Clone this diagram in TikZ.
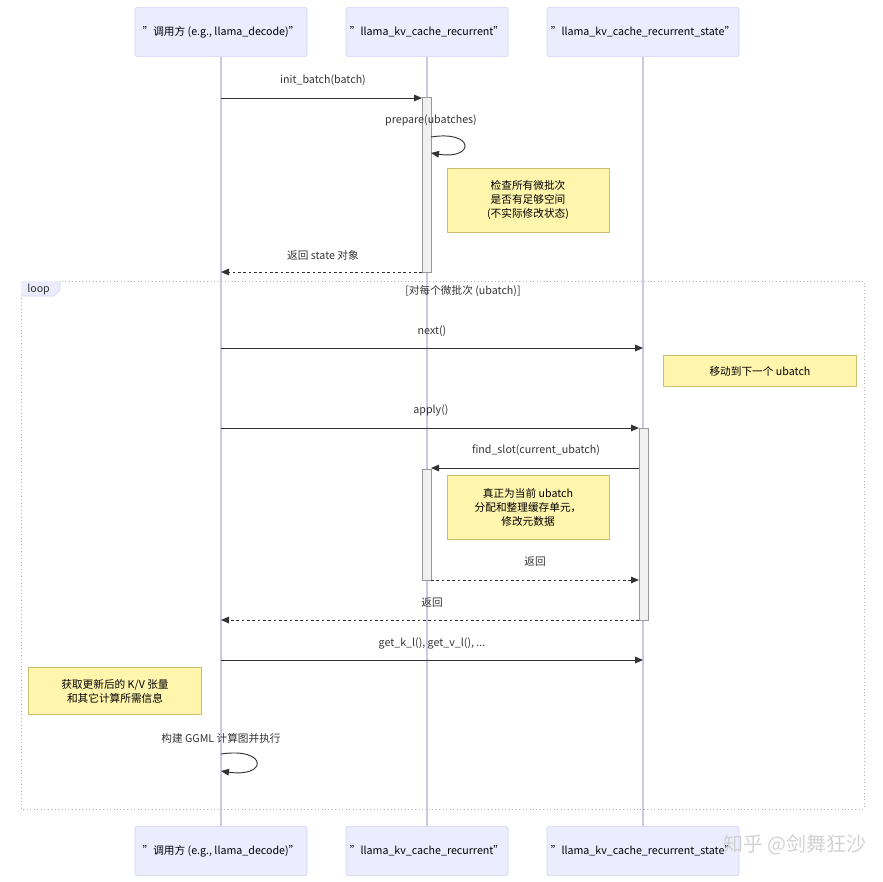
\documentclass[tikz,border=0pt]{standalone}
\usepackage{fontspec}
\setmainfont{Noto Sans CJK SC}
\usetikzlibrary{arrows.meta}
\definecolor{actf}{HTML}{ECECFF}
\definecolor{actd}{HTML}{D4D4F5}
\definecolor{notef}{HTML}{FFF5AD}
\definecolor{noted}{HTML}{C8C070}
\definecolor{life}{HTML}{C8C8E8}
\definecolor{ln}{HTML}{333333}
\tikzset{
 x=0.75pt,y=-0.75pt,
 actor/.style={draw=actd,fill=actf,rounded corners=1pt,minimum width=#1*0.75pt,minimum height=37pt,font=\fontsize{8}{10}\selectfont,inner sep=0pt},
 notebox/.style={draw=noted,fill=notef,minimum width=#1*0.75pt,font=\fontsize{8}{10.5}\selectfont,align=center,inner sep=3pt},
 lbl/.style={font=\fontsize{8}{10}\selectfont,text=ln,inner sep=0pt},
 msg/.style={draw=ln,line width=0.7pt,-{Triangle[length=6pt,width=5pt]}},
 ret/.style={msg,dashed,dash pattern=on 2pt off 2pt},
 actv/.style={draw=gray!80,fill=gray!12,line width=0.5pt},
 lifeline/.style={draw=life,line width=0.9pt}
}
\begin{document}
\begin{tikzpicture}
\useasboundingbox (0,0) rectangle (883,882);
% lifelines
\draw[lifeline] (221,57) -- (221,826);
\draw[lifeline] (427,57) -- (427,826);
\draw[lifeline] (643,57) -- (643,826);
% actors
\node[actor=172] (a1) at (221,32) {"调用方 (e.g., llama\_decode)"};
\node[actor=162] (a2) at (427,32) {"llama\_kv\_cache\_recurrent"};
\node[actor=192] (a3) at (643,32) {"llama\_kv\_cache\_recurrent\_state"};
\node[actor=172] (b1) at (221,851) {"调用方 (e.g., llama\_decode)"};
\node[actor=162] (b2) at (427,851) {"llama\_kv\_cache\_recurrent"};
\node[actor=192] (b3) at (643,851) {"llama\_kv\_cache\_recurrent\_state"};
% activations
\draw[actv] (422,97) rectangle (431,272);
\draw[actv] (639,428) rectangle (648,620);
\draw[actv] (422,469) rectangle (431,580);
% coordinates
\coordinate (p1) at (221,98); \coordinate (q1) at (422,98);
\coordinate (s1) at (431,137); \coordinate (s2) at (431,153);
\coordinate (p2) at (422,272); \coordinate (q2) at (221,272);
\coordinate (p3) at (221,348); \coordinate (q3) at (643,348);
\coordinate (p4) at (221,428); \coordinate (q4) at (639,428);
\coordinate (p5) at (639,468); \coordinate (q5) at (431,468);
\coordinate (p6) at (431,580); \coordinate (q6) at (639,580);
\coordinate (p7) at (639,620); \coordinate (q7) at (221,620);
\coordinate (p8) at (221,660); \coordinate (q8) at (643,660);
\coordinate (t1) at (221,754); \coordinate (t2) at (221,771);
% loop frame
\draw[gray!60,line width=0.6pt,dotted] (21,281) rectangle (864,809);
\fill[actf] (21,281) -- (60,281) -- (60,290) -- (54,296) -- (21,296) -- cycle;
\draw[actd,line width=0.5pt] (60,281) -- (60,290) -- (54,296) -- (21,296);
\node[lbl,anchor=west] (loopl) at (27,289) {loop};
\node[lbl] (cond) at (463,291) {[对每个微批次 (ubatch)]};
% messages
\draw[msg] (p1) -- (q1);
\node[lbl] (m1) at (323,80) {init\_batch(batch)};
\draw[msg] (s1) .. controls (475,130) and (475,160) .. (s2);
\node[lbl] (m2) at (431,120) {prepare(ubatches)};
\node[notebox=162,minimum height=48pt] (n1) at (528,200) {检查所有微批次\\是否有足够空间\\(不实际修改状态)};
\draw[ret] (p2) -- (q2);
\node[lbl] (m3) at (323,255) {返回 state 对象};
\draw[msg] (p3) -- (q3);
\node[lbl] (m4) at (432,331) {next()};
\node[notebox=193,minimum height=23pt] (n2) at (760,371) {移动到下一个 ubatch};
\draw[msg] (p4) -- (q4);
\node[lbl] (m5) at (431,410) {apply()};
\draw[msg] (p5) -- (q5);
\node[lbl] (m6) at (536,450) {find\_slot(current\_ubatch)};
\node[notebox=162,minimum height=48pt] (n3) at (528,507) {真正为当前 ubatch\\分配和整理缓存单元，\\修改元数据};
\draw[ret] (p6) -- (q6);
\node[lbl] (m7) at (535,562) {返回};
\draw[ret] (p7) -- (q7);
\node[lbl] (m8) at (432,603) {返回};
\draw[msg] (p8) -- (q8);
\node[lbl] (m9) at (432,643) {get\_k\_l(), get\_v\_l(), ...};
\node[notebox=173,minimum height=35pt] (n4) at (115,691) {获取更新后的 K/V 张量\\和其它计算所需信息};
\draw[msg] (t1) .. controls (268,747) and (268,778) .. (t2);
\node[lbl] (m10) at (221,738) {构建 GGML 计算图并执行};
% watermark
\node[font=\fontsize{15}{18}\selectfont,text=gray!35] (wm) at (795,845) {知乎 @剑舞狂沙};
\end{tikzpicture}
\end{document}
